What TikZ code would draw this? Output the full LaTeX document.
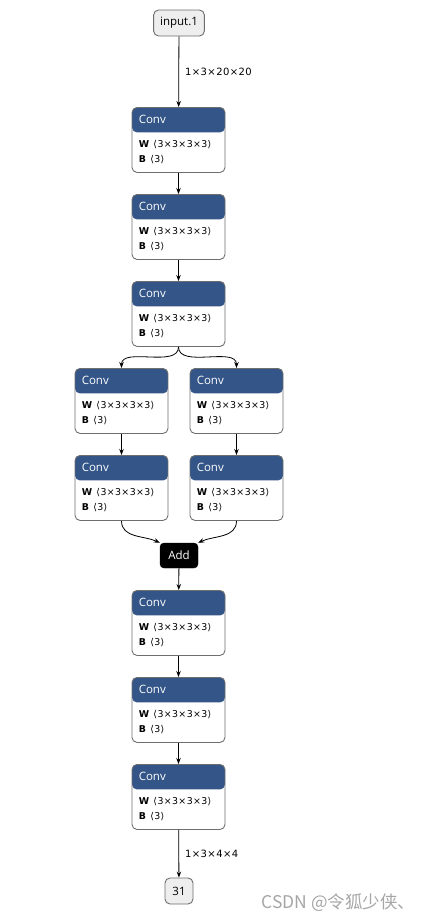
\documentclass[tikz,border=0pt]{standalone}
\usepackage{fontspec}
\setmainfont{Open Sans}
\newfontfamily\dimfont[LetterSpace=4]{DejaVu Sans}
\newfontfamily\cjkfont{Noto Sans CJK SC}
\usetikzlibrary{arrows.meta}

\definecolor{convblue}{RGB}{51,85,136}
\definecolor{boxgray}{RGB}{238,238,238}
\definecolor{edgegray}{RGB}{110,110,110}

\tikzset{
  conv/.style={draw=edgegray, line width=0.9pt, rounded corners=5pt,
    minimum width=93pt, minimum height=65pt, inner sep=0pt,
    path picture={\fill[convblue] (path picture bounding box.north west)
      rectangle ([yshift=-25pt]path picture bounding box.north east);}},
  convhead/.style={anchor=west, text=white, font=\fontsize{11.5}{12}\selectfont, inner sep=0pt},
  convattr/.style={anchor=west, font=\fontsize{9.4}{10}\dimfont, inner sep=0pt},
  io/.style={draw=edgegray, line width=0.9pt, rounded corners=5pt, fill=boxgray,
    minimum height=26pt, inner xsep=6.5pt, font=\fontsize{11.5}{12}\selectfont},
  op/.style={draw=black, rounded corners=4pt, fill=black, text=white,
    minimum width=38pt, minimum height=25pt, inner sep=0pt, font=\fontsize{11.5}{12}\selectfont},
  edge/.style={line width=0.8pt, -{Stealth[length=6pt,width=4.5pt]}},
  shape label/.style={right, font=\fontsize{10}{10}\dimfont, inner xsep=6pt}
}

% one Conv block: name, x, y (top edge)
\newcommand{\convblock}[3]{%
  \node[conv, anchor=north] (#1) at (#2,#3) {};
  \node[convhead] at ([xshift=7pt,yshift=-12.5pt]#1.north west) {Conv};
  \node[convattr] at ([xshift=7pt,yshift=-37.5pt]#1.north west)
    {\textbf{W}\hspace{4pt}⟨3×3×3×3⟩};
  \node[convattr] at ([xshift=7pt,yshift=-53pt]#1.north west)
    {\textbf{B}\hspace{4pt}⟨3⟩};
}

\begin{document}
\begin{tikzpicture}[x=1pt, y=1pt]
  \useasboundingbox (0,0) rectangle (433,-922);

  \node[io] (input) at (179,-23) {input.1};

  \convblock{conva}{178.5}{-107}
  \convblock{convb}{178.5}{-194}
  \convblock{convc}{178.5}{-281}
  \convblock{convd}{121.5}{-368}
  \convblock{conve}{236.5}{-368}
  \convblock{convf}{121.5}{-455}
  \convblock{convg}{236.5}{-455}

  \node[op] (add) at (179,-555.5) {Add};

  \convblock{convh}{178.5}{-590}
  \convblock{convi}{178.5}{-677}
  \convblock{convj}{178.5}{-764}

  \node[io, minimum width=28pt, inner xsep=0pt] (output) at (179,-891) {31};

  % connectors
  \draw[edge] (input) -- node[shape label] {1×3×20×20} (conva);
  \draw[edge] (conva) -- (convb);
  \draw[edge] (convb) -- (convc);
  \draw[edge] (convc.south) to[out=-90, in=90, looseness=0.9] (convd.north);
  \draw[edge] (convc.south) to[out=-90, in=90, looseness=0.9] (conve.north);
  \draw[edge] (convd) -- (convf);
  \draw[edge] (conve) -- (convg);
  \draw[edge] (convf.south) to[out=-90, in=155] (add.north west);
  \draw[edge] (convg.south) to[out=-90, in=25] (add.north east);
  \draw[edge] (add) -- (convh);
  \draw[edge] (convh) -- (convi);
  \draw[edge] (convi) -- (convj);
  \draw[edge] (convj) -- node[shape label] {1×3×4×4} (output);

  \node[anchor=east, text=black!35, font=\fontsize{17.5}{19}\cjkfont]
    (mark) at (419,-903) {CSDN @令狐少侠、};
\end{tikzpicture}
\end{document}
